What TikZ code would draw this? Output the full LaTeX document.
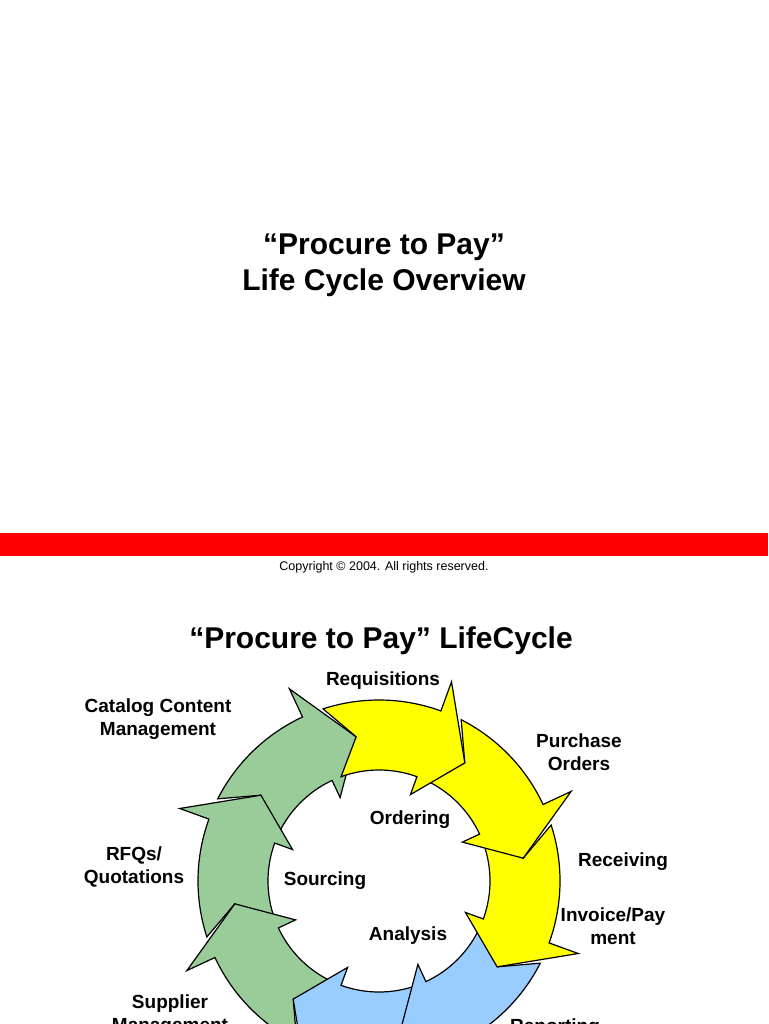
\documentclass[tikz,border=0pt]{standalone}
\usepackage{fontspec}
\setmainfont{Liberation Sans}
\definecolor{ylw}{HTML}{FFFF00}
\definecolor{grn}{HTML}{99CC99}
\definecolor{blu}{HTML}{99CCFF}
\begin{document}
\begin{tikzpicture}[x=1pt,y=-1pt,
  lbl/.style={font=\bfseries\fontsize{19}{23}\selectfont,align=center,inner sep=0pt},
  arr/.style={draw=black,line width=1.2pt,line join=miter}]
\useasboundingbox (0,0) rectangle (768,1024);
\fill[white] (0,0) rectangle (768,1024);
\node[font=\bfseries\fontsize{30}{36}\selectfont,align=center] (t1) at (384,265) {“Procure to Pay”\\Life Cycle Overview};
\fill[red] (0,533) rectangle (768,556);
\node[font=\fontsize{12.5}{14}\selectfont] (cp) at (384,567) {Copyright © 2004. All rights reserved.};
\node[font=\bfseries\fontsize{30}{34}\selectfont] (t2) at (381,641) {“Procure to Pay” LifeCycle};
\coordinate (C) at (379,881);
\foreach \t/\c in {99/grn,144/grn,189/grn,234/blu,279/blu,324/ylw,9/ylw,54/ylw}{
  \draw[arr,fill=\c,shift={(C)}] (-\t-54:181) arc[start angle=-\t-54,end angle=-\t-16,radius=181]
    -- (-\t-16:212) -- (-\t:146) -- (-\t-16:92) -- (-\t-16:111)
    arc[start angle=-\t-16,end angle=-\t-56,radius=111] -- (-\t-45:146) -- cycle;
}
\node[lbl] (req) at (383,681) {Requisitions};
\node[lbl] (po) at (579,752) {Purchase\\Orders};
\node[lbl] (rec) at (623,862) {Receiving};
\node[lbl] (inv) at (613,926) {Invoice/Pay\\ment};
\node[lbl,anchor=north] (rep) at (555,1019) {Reporting};
\node[lbl] (sup) at (170,1015) {Supplier\\Management};
\node[lbl] (rfq) at (134,867) {RFQs/\\Quotations};
\node[lbl] (cat) at (158,719) {Catalog Content\\Management};
\node[lbl] (ord) at (410,820) {Ordering};
\node[lbl] (src) at (325,881) {Sourcing};
\node[lbl] (ana) at (408,936) {Analysis};
\end{tikzpicture}
\end{document}
